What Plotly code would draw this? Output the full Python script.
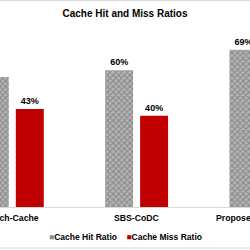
import plotly.graph_objects as go

categories = ["Patch-Cache", "SBS-CoDC", "Proposed Framework"]
hit_ratio = [57, 60, 69]
miss_ratio = [43, 40, 31]
series_names = ["Cache Hit Ratio", "Cache Miss Ratio"]

FONT = "Liberation Sans, Arial, sans-serif"
HIT_BG = "#b4b4b4"
HIT_FG = "#5a5a5a"
MISS = "#c00000"

TOP, BASE = 30, 207
PLOT_H = BASE - TOP
X_RANGE = [-0.099, 1.912]

fig = go.Figure()
fig.add_trace(go.Bar(
    x=categories, y=hit_ratio, name=series_names[0],
    marker=dict(color=HIT_BG, line=dict(width=0),
                pattern=dict(shape="x", fgcolor=HIT_FG, bgcolor=HIT_BG, size=4, solidity=0.45)),
    text=[f"<b>{v}%</b>" for v in hit_ratio], textposition="outside",
    textfont=dict(family=FONT, size=9, color="#000"), cliponaxis=False, showlegend=False,
))
fig.add_trace(go.Bar(
    x=categories, y=miss_ratio, name=series_names[1],
    marker=dict(color=MISS, line=dict(width=0)),
    text=[f"<b>{v}%</b>" for v in miss_ratio], textposition="outside",
    textfont=dict(family=FONT, size=9, color="#000"), cliponaxis=False, showlegend=False,
))

fig.update_layout(
    width=250, height=250,
    margin=dict(l=0, r=0, t=TOP, b=250 - BASE, autoexpand=False),
    paper_bgcolor="white", plot_bgcolor="white",
    barmode="group", bargap=0.437, bargroupgap=0.2,
    font=dict(family=FONT, color="#000"),
    title=dict(text="<b>Cache Hit and Miss Ratios</b>", x=0.5, xanchor="center",
               y=1 - 13.5 / 250, yanchor="middle", font=dict(size=10, color="#000")),
    xaxis=dict(type="category", range=X_RANGE, showgrid=False, automargin=False,
               showline=True, linecolor="#d9d9d9", linewidth=1, ticks="",
               showticklabels=False, fixedrange=True),
    yaxis=dict(range=[0, PLOT_H / 2.28], visible=False, fixedrange=True, automargin=False),
    showlegend=False,
    uniformtext=dict(minsize=1),
)

# category labels (the right-most one lies partly beyond the visible range)
for i, cat in enumerate(categories):
    fig.add_annotation(
        xref="paper", yref="paper",
        x=(i - X_RANGE[0]) / (X_RANGE[1] - X_RANGE[0]), y=(BASE - 218) / PLOT_H,
        xanchor="center", yanchor="middle", text=f"<b>{cat}</b>",
        font=dict(family=FONT, size=8.7, color="#000"), showarrow=False,
    )

fig.add_annotation(
    xref="paper", yref="paper", x=0.5, y=(BASE - 237) / PLOT_H, xanchor="center", yanchor="middle",
    text=(f"<b><span style='color:#8c8c8c'>■</span>{series_names[0]}    "
          f"<span style='color:{MISS}'>■</span>{series_names[1]}</b>"),
    font=dict(family=FONT, size=8.5, color="#000"), showarrow=False,
)
for ypx in (0.5, 248):
    fig.add_shape(type="line", xref="paper", yref="paper", x0=0, x1=1,
                  y0=(BASE - ypx) / PLOT_H, y1=(BASE - ypx) / PLOT_H,
                  line=dict(color="#d9d9d9", width=1))
fig.write_html("out.html")
